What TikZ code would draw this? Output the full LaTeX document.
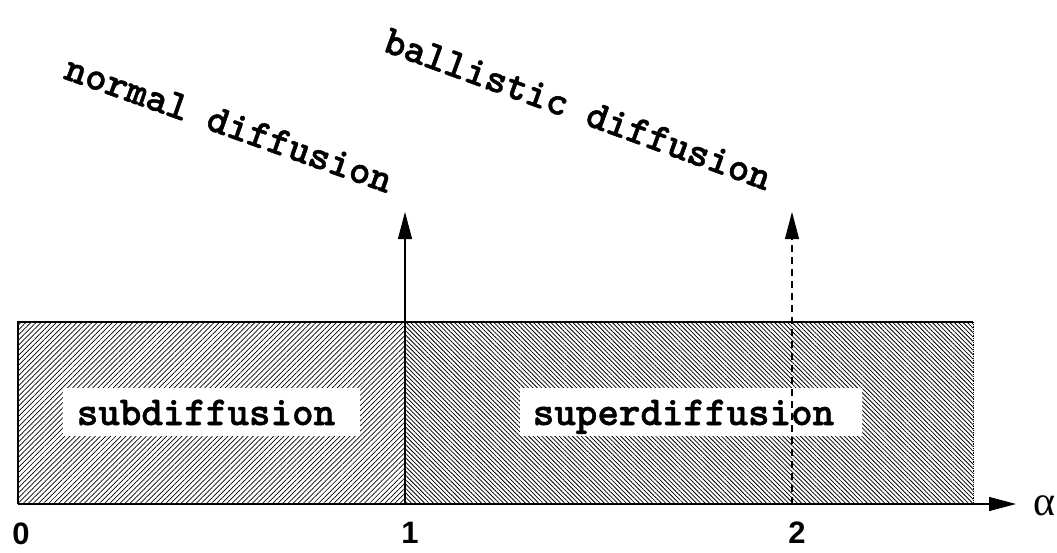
\documentclass[tikz,border=0pt]{standalone}
\usepackage{fontspec}
\usetikzlibrary{patterns.meta,arrows.meta}
\newfontfamily\helfont{Liberation Sans}
\newfontfamily\serfont{Liberation Serif}
\newfontfamily\courfont{lmmonolt10-bold}[Extension=.otf,FakeBold=1.2]
\tikzset{
  hatchleft/.style={pattern={Lines[angle=45,distance=3.6pt,line width=0.7pt]}},
  hatchright/.style={pattern={Lines[angle=-45,distance=3.1pt,line width=0.8pt]}},
  labelbox/.style={rectangle,fill=white,draw=none,inner sep=0pt},
  courtext/.style={inner sep=0pt,font=\courfont\fontsize{41}{44}\selectfont},
  numtext/.style={inner sep=0pt,font=\helfont\bfseries\fontsize{31}{34}\selectfont},
  tipstyle/.style={-{Triangle[length=27pt,width=14pt]}},
  thinline/.style={line width=1.1pt}
}
\begin{document}
\begin{tikzpicture}[x=1pt,y=-1pt]
\useasboundingbox (0,0) rectangle (1057,552);
% hatched regions
\fill[hatchleft] (18,322) rectangle (405,504);
\fill[hatchright] (405,322) rectangle (973,504);
% frame
\draw[thinline] (18,504) -- (18,322) -- (973,322);
\draw[line width=0.8pt,densely dotted] (973,322) -- (973,504);
% coordinates
\coordinate (o) at (18,504);
\coordinate (b1) at (405,504);
\coordinate (t1) at (405,212);
\coordinate (b2) at (792,504);
\coordinate (t2) at (792,212);
\coordinate (ax) at (1016,504);
% label boxes
\node[labelbox,minimum width=297pt,minimum height=48pt] (subbox) at (211.5,412) {};
\node[labelbox,minimum width=342pt,minimum height=48pt] (superbox) at (691,412) {};
% arrows
\draw[thinline,tipstyle] (b1) -- (t1);
\draw[thinline,tipstyle,dash pattern=on 7pt off 5pt] (b2) -- (t2);
\draw[thinline,tipstyle] (o) -- (ax);
% texts
\node[courtext,anchor=base] (sub) at (206,425) {subdiffusion};
\node[courtext,anchor=base] (super) at (683.5,425) {superdiffusion};
\node[courtext,rotate=-19.5] (normal) at (229,124) {normal diffusion};
\node[courtext,rotate=-20] (ball) at (578,109) {ballistic diffusion};
\node[numtext] (n0) at (21,534) {0};
\node[numtext] (n1) at (410,533) {1};
\node[numtext] (n2) at (797,533) {2};
\node[inner sep=0pt,anchor=west,font=\serfont\fontsize{42}{44}\selectfont] (alpha) at (1033,506) {α};
\end{tikzpicture}
\end{document}
